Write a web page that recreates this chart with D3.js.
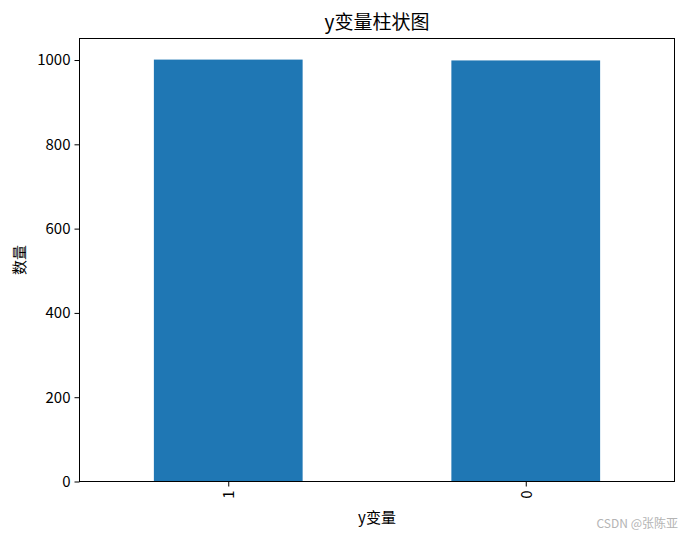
<!DOCTYPE html>
<html><head><meta charset="utf-8">
<script src="https://cdn.jsdelivr.net/npm/d3@7"></script>
<style>body{margin:0;background:#fff;}svg{display:block;}</style>
</head><body>
<script>
const categories = ["1", "0"];
const counts = [1001, 999];
const yTicks = [0, 200, 400, 600, 800, 1000];
const title = "y变量柱状图";
const xLabel = "y变量";
const yLabel = "数量";
const watermark = "CSDN @张陈亚";

const W = 686, H = 537;
const m = {left: 79.5, right: 11.5, top: 38.5, bottom: 55.5};
const font = "'Noto Sans CJK SC', 'DejaVu Sans', sans-serif";
const svg = d3.select("body").append("svg").attr("width", W).attr("height", H);

const x = d3.scaleLinear().domain([-0.5, categories.length - 0.5]).range([m.left, W - m.right]);
const y = d3.scaleLinear().domain([0, d3.max(counts) * 1.05]).range([H - m.bottom, m.top]);
const bw = x(0.25) - x(-0.25);

svg.selectAll("rect.bar").data(categories).join("rect")
  .attr("class", "bar")
  .attr("x", (d, i) => x(i) - bw / 2)
  .attr("width", bw)
  .attr("y", (d, i) => y(counts[i]))
  .attr("height", (d, i) => y(0) - y(counts[i]))
  .attr("fill", "#1f77b4");

// Y axis
const yAxis = svg.append("g").attr("transform", `translate(${m.left},0)`)
  .call(d3.axisLeft(y).tickValues(yTicks).tickFormat(d3.format("d")).tickSize(5).tickPadding(4).tickSizeOuter(0));
yAxis.select(".domain").remove();
yAxis.selectAll("text").attr("font-family", font).attr("font-size", 15).attr("fill", "#000");

// X axis
const xAxis = svg.append("g").attr("transform", `translate(0,${H - m.bottom})`)
  .call(d3.axisBottom(x).tickValues(categories.map((c, i) => i)).tickFormat(i => categories[i]).tickSize(5).tickSizeOuter(0));
xAxis.select(".domain").remove();
xAxis.selectAll("text")
  .attr("font-family", font).attr("font-size", 15).attr("fill", "#000")
  .attr("transform", "rotate(-90)").attr("text-anchor", "end")
  .attr("x", -9).attr("y", 0).attr("dy", "0.35em");

// Frame
svg.append("rect").attr("x", m.left).attr("y", m.top)
  .attr("width", W - m.left - m.right).attr("height", H - m.top - m.bottom)
  .attr("fill", "none").attr("stroke", "#000").attr("stroke-width", 1);

// Title and labels
svg.append("text").attr("x", (m.left + W - m.right) / 2).attr("y", 29)
  .attr("text-anchor", "middle").attr("font-family", font).attr("font-size", 19).attr("font-weight", 400).text(title);
svg.append("text").attr("x", (m.left + W - m.right) / 2).attr("y", 523)
  .attr("text-anchor", "middle").attr("font-family", font).attr("font-size", 15).text(xLabel);
svg.append("text").attr("transform", `translate(25,${(m.top + H - m.bottom) / 2}) rotate(-90)`)
  .attr("text-anchor", "middle").attr("font-family", font).attr("font-size", 15).text(yLabel);

svg.append("text").attr("x", 678).attr("y", 528).attr("text-anchor", "end")
  .attr("font-family", font).attr("font-size", 12).attr("fill", "#b4b4b4").text(watermark);
</script>
</body></html>
